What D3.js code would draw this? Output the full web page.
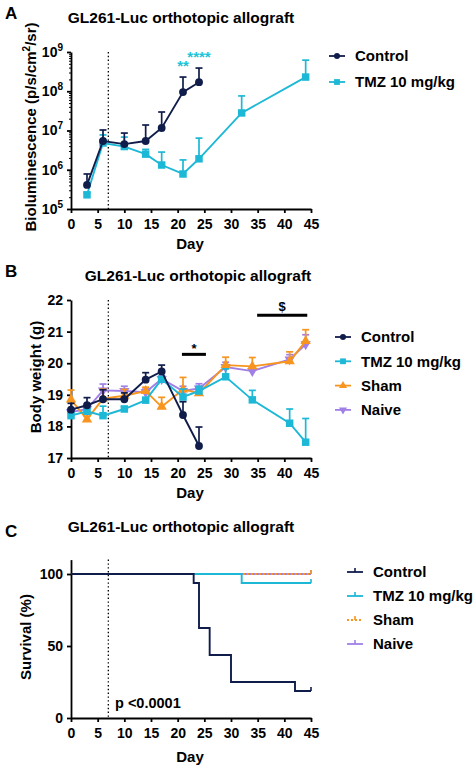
<!DOCTYPE html>
<html>
<head>
<meta charset="utf-8">
<script src="https://cdn.jsdelivr.net/npm/d3@7"></script>
<style>
body { margin: 0; background: #fff; }
svg text { font-family: "Liberation Sans", Arial, sans-serif; font-weight: bold; fill: #000; }
</style>
</head>
<body>
<svg id="fig" width="474" height="771"></svg>
<script>
/* DATA */

const dayTicks = [0, 5, 10, 15, 20, 25, 30, 35, 40, 45];

// A - bioluminescence (mean, sem above)
const bioDaysCtrl = [3, 6, 10, 14, 17, 21, 24];
const bioCtrl = [4.1e5, 5.4e6, 4.5e6, 5.4e6, 1.16e7, 9.5e7, 1.7e8];
const bioCtrlSem = [3.7e5, 4.9e6, 4.1e6, 8.4e6, 1.8e7, 1.35e8, 2.2e8];
const bioDaysTmz = [3, 6, 10, 14, 17, 21, 24, 32, 44];
const bioTmz = [2.3e5, 4.8e6, 3.9e6, 2.5e6, 1.32e6, 7.8e5, 1.9e6, 2.8e7, 2.3e8];
const bioTmzSem = [0.3e5, 2.9e6, 2.9e6, 0.8e6, 1.5e6, 1.0e6, 4.5e6, 4.8e7, 3.9e8];
const bioTicks = [1e5, 1e6, 1e7, 1e8, 1e9];
const starDaysA = [21, 24];
const starLabelsA = ["**", "****"];

// B - body weight
const wDaysCtrl = [0, 3, 6, 10, 14, 17, 21, 24];
const wCtrl = [18.53, 18.67, 18.86, 18.86, 19.48, 19.74, 18.36, 17.38];
const wCtrlSem = [0.2, 0.24, 0.3, 0.2, 0.22, 0.2, 0.42, 0.6];
const wDays = [0, 3, 6, 10, 14, 17, 21, 24, 29, 34, 41, 44];
const wTmz = [18.34, 18.48, 18.34, 18.55, 18.83, 19.49, 18.93, 19.12, 19.57, 18.84, 18.1, 17.5];
const wTmzSem = [0.08, 0.08, 0.3, 0.08, 0.08, 0.08, 0.25, 0.15, 0.25, 0.3, 0.45, 0.75];
const wSham = [18.85, 18.22, 18.88, 18.97, 19.12, 18.62, 19.17, 19.05, 19.94, 19.9, 20.06, 20.7];
const wShamSem = [0.3, 0.1, 0.3, 0.2, 0.12, 0.3, 0.38, 0.12, 0.25, 0.28, 0.3, 0.36];
const wNaive = [18.45, 18.55, 19.14, 19.12, 19.08, 19.5, 19.12, 19.2, 19.88, 19.75, 20.12, 20.6];
const wNaiveSem = [0.08, 0.08, 0.2, 0.15, 0.1, 0.1, 0.15, 0.15, 0.15, 0.1, 0.15, 0.3];
const wTicks = [17, 18, 19, 20, 21, 22];
const sigRangesB = [[20.8, 25.3], [34.9, 44.3]];
const sigLevelsB = [20.28, 21.52];
const sigLabelsB = ["*", "$"];

// C - survival (Kaplan-Meier steps)
const survDaysCtrl = [0, 23, 24, 26, 30, 42, 45];
const survCtrl = [100, 93.75, 62.5, 43.75, 25, 18.75, 18.75];
const survDaysTmz = [0, 32, 45];
const survTmz = [100, 93.75, 93.75];
const survDaysSham = [0, 45];
const survSham = [100, 100];
const survDaysNaive = [0, 45];
const survNaive = [100, 100];
const survTicks = [0, 50, 100];

const treatmentDay = 7;

/* STYLE */

const navy = "#101d4b", cyan = "#1cb8d6", orange = "#f7951f", purple = "#a07fe6";
const title = "GL261-Luc orthotopic allograft";

const svg = d3.select("#fig");

const x = d3.scaleLinear().domain([0, 45]).range([71, 311]);

function styleAxis(ax) {
  ax.select(".domain").attr("stroke", "#000").attr("stroke-width", 1.8);
  ax.selectAll(".tick line").attr("stroke", "#000").attr("stroke-width", 1.8);
  ax.selectAll(".tick text").attr("font-size", 14).attr("fill", "#000");
}

function drawAxes(y, yTicks, fmt) {
  const yb = y.range()[0];
  const ax = svg.append("g").attr("transform", `translate(0,${yb})`)
    .call(d3.axisBottom(x).tickValues(dayTicks).tickSize(4).tickSizeOuter(0).tickPadding(6));
  styleAxis(ax);
  const ay = svg.append("g").attr("transform", `translate(${x(0)},0)`)
    .call(d3.axisLeft(y).tickValues(yTicks).tickSize(4).tickSizeOuter(0).tickPadding(4).tickFormat(fmt));
  styleAxis(ay);
  return ay;
}

function dotted(y) {
  svg.append("line")
    .attr("x1", x(treatmentDay)).attr("x2", x(treatmentDay))
    .attr("y1", y.range()[1]).attr("y2", y.range()[0])
    .attr("stroke", "#000").attr("stroke-width", 1.3)
    .attr("stroke-dasharray", "1.4,2.4");
}

function marker(g, shape, cx, cy, color, scale) {
  const types = { circle: d3.symbolCircle, square: d3.symbolSquare, up: d3.symbolTriangle, down: d3.symbolTriangle };
  const sizes = { circle: 48, square: 56, up: 46, down: 46 };
  g.append("path")
    .attr("d", d3.symbol().type(types[shape]).size(sizes[shape] * (scale || 1))())
    .attr("transform", `translate(${cx},${cy})` + (shape === "down" ? " rotate(180)" : ""))
    .attr("fill", color);
}

function series(y, days, vals, sems, color, shape) {
  const g = svg.append("g");
  const pts = days.map((d, i) => ({ d: d, v: vals[i], s: sems[i] }));
  pts.forEach(p => {
    const top = y(p.v + p.s);
    g.append("line").attr("x1", x(p.d)).attr("x2", x(p.d)).attr("y1", y(p.v)).attr("y2", top)
      .attr("stroke", color).attr("stroke-width", 1.7);
    g.append("line").attr("x1", x(p.d) - 3.5).attr("x2", x(p.d) + 3.5).attr("y1", top).attr("y2", top)
      .attr("stroke", color).attr("stroke-width", 1.7);
  });
  g.append("path").datum(pts)
    .attr("d", d3.line().x(p => x(p.d)).y(p => y(p.v)))
    .attr("fill", "none").attr("stroke", color).attr("stroke-width", 1.9);
  pts.forEach(p => marker(g, shape, x(p.d), y(p.v), color));
}

function legend(x0, y0, gap, rows, kind) {
  rows.forEach((r, i) => {
    const cy = y0 + i * gap;
    const l = svg.append("line").attr("x1", x0).attr("x2", x0 + 16).attr("y1", cy).attr("y2", cy)
      .attr("stroke", r.color).attr("stroke-width", 1.8);
    if (kind === "surv") {
      if (r.dash) l.attr("stroke-dasharray", r.dash);
      svg.append("line").attr("x1", x0 + 8).attr("x2", x0 + 8).attr("y1", cy - 4).attr("y2", cy)
        .attr("stroke", r.color).attr("stroke-width", 1.6);
    } else {
      marker(svg, r.shape, x0 + 8, cy, r.color, 0.6);
    }
    svg.append("text").attr("x", x0 + 26).attr("y", cy + 5.4).attr("font-size", 15).text(r.label);
  });
}

function headings(letter, ly, tx, ty) {
  svg.append("text").attr("x", 5).attr("y", ly).attr("font-size", 17).text(letter);
  svg.append("text").attr("x", tx).attr("y", ty).attr("text-anchor", "middle").attr("font-size", 15.5).text(title);
}

function axisLabels(xLabelY, yLabel, yx, yy) {
  svg.append("text").attr("x", 190).attr("y", xLabelY).attr("text-anchor", "middle").attr("font-size", 15).text("Day");
  return svg.append("text").attr("transform", `translate(${yx},${yy}) rotate(-90)`)
    .attr("text-anchor", "middle").attr("font-size", 15).text(yLabel);
}

/* PANEL A */

const yA = d3.scaleLog().domain([1e5, 1e9]).range([209, 52]);
headings("A", 19, 181, 23);
const ayA = drawAxes(yA, bioTicks, () => "");
ayA.selectAll(".tick text").each(function (d) {
  const t = d3.select(this);
  t.append("tspan").text("10");
  t.append("tspan").attr("font-size", 10).attr("dy", -6).text(Math.round(Math.log10(d)));
});
const minorA = [];
bioTicks.slice(0, -1).forEach(t => d3.range(2, 10).forEach(k => minorA.push(k * t)));
svg.append("g").attr("transform", `translate(${x(0)},0)`)
  .call(d3.axisLeft(yA).tickValues(minorA).tickSize(2).tickFormat(""))
  .call(g => g.select(".domain").remove())
  .selectAll(".tick line").attr("stroke", "#000").attr("stroke-width", 1);
dotted(yA);
const ylA = axisLabels(249, "", 36, 127);
ylA.append("tspan").text("Bioluminescence (p/s/cm");
ylA.append("tspan").attr("font-size", 10).attr("dy", -6).text("2");
ylA.append("tspan").attr("dy", 6).text("/sr)");

series(yA, bioDaysTmz, bioTmz, bioTmzSem, cyan, "square");
series(yA, bioDaysCtrl, bioCtrl, bioCtrlSem, navy, "circle");

starDaysA.forEach((d, i) => {
  const k = bioDaysCtrl.indexOf(d);
  svg.append("text").attr("x", x(d)).attr("y", yA(bioCtrl[k] + bioCtrlSem[k]) - 6)
    .attr("text-anchor", "middle").attr("font-size", 15).style("fill", "#22c3d6").text(starLabelsA[i]);
});

legend(329, 56, 26, [
  { label: "Control", color: navy, shape: "circle" },
  { label: "TMZ 10 mg/kg", color: cyan, shape: "square" }
]);

/* PANEL B */

const yB = d3.scaleLinear().domain([17, 22]).range([458, 300]);
headings("B", 277, 198, 281);
drawAxes(yB, wTicks, d3.format("d"));
dotted(yB);
axisLabels(498, "Body weight (g)", 41, 377);

series(yB, wDays, wNaive, wNaiveSem, purple, "down");
series(yB, wDays, wSham, wShamSem, orange, "up");
series(yB, wDays, wTmz, wTmzSem, cyan, "square");
series(yB, wDaysCtrl, wCtrl, wCtrlSem, navy, "circle");

sigRangesB.forEach((r, i) => {
  const yy = yB(sigLevelsB[i]);
  svg.append("line").attr("x1", x(r[0])).attr("x2", x(r[1])).attr("y1", yy).attr("y2", yy)
    .attr("stroke", "#000").attr("stroke-width", 3);
  svg.append("text").attr("x", x((r[0] + r[1]) / 2)).attr("y", yy - (sigLabelsB[i] === "*" ? 1 : 4))
    .attr("text-anchor", "middle").attr("font-size", 13).text(sigLabelsB[i]);
});

legend(335, 337, 24.3, [
  { label: "Control", color: navy, shape: "circle" },
  { label: "TMZ 10 mg/kg", color: cyan, shape: "square" },
  { label: "Sham", color: orange, shape: "up" },
  { label: "Naive", color: purple, shape: "down" }
]);

/* PANEL C */

const yC = d3.scaleLinear().domain([0, 110]).range([718, 559.6]);
headings("C", 537, 181, 532);
drawAxes(yC, survTicks, d3.format("d"));
dotted(yC);
axisLabels(762, "Survival (%)", 31, 637);

function km(days, vals, color, dash) {
  const pts = days.map((d, i) => [x(d), yC(vals[i])]);
  const p = svg.append("path").datum(pts)
    .attr("d", d3.line().curve(d3.curveStepAfter))
    .attr("fill", "none").attr("stroke", color).attr("stroke-width", 1.9);
  if (dash) p.attr("stroke-dasharray", dash);
  const last = pts[pts.length - 1];
  svg.append("line").attr("x1", last[0]).attr("x2", last[0]).attr("y1", last[1] - 4).attr("y2", last[1])
    .attr("stroke", color).attr("stroke-width", 1.6);
}
km(survDaysNaive, survNaive, purple);
km(survDaysSham, survSham, orange, "2,2");
km(survDaysTmz, survTmz, cyan);
km(survDaysCtrl, survCtrl, navy);

svg.append("text").attr("x", 115).attr("y", 708).attr("font-size", 14.5).text("p <0.0001");

legend(347, 572, 24, [
  { label: "Control", color: navy },
  { label: "TMZ 10 mg/kg", color: cyan },
  { label: "Sham", color: orange, dash: "2,2" },
  { label: "Naive", color: purple }
], "surv");
</script>
</body>
</html>
